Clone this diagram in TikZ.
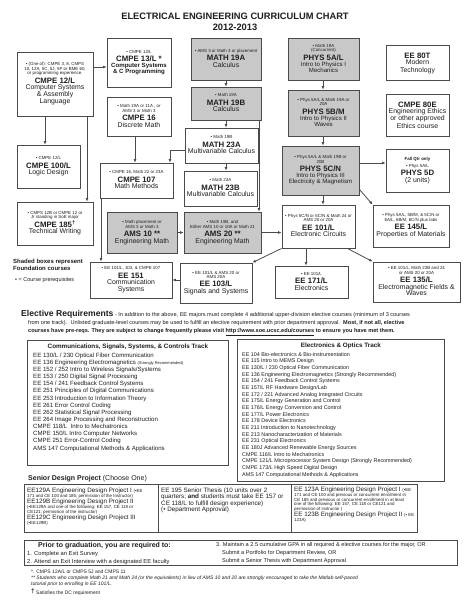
\documentclass[tikz,border=0pt]{standalone}
\usepackage{fontspec}
\setmainfont{Liberation Sans}
\usetikzlibrary{arrows.meta,calc}
\definecolor{bordc}{HTML}{4A4A4A}
\definecolor{shadec}{HTML}{C8C8C8}
\definecolor{txtc}{HTML}{1E1E1E}
\newcommand\xPre[1]{{\fontsize{4.4}{0}\selectfont\rule[-1pt]{0pt}{3.4pt}#1}}
\newcommand\xTitle[1]{{\fontsize{7.8}{0}\selectfont\bfseries\rule[-1.3pt]{0pt}{8.2pt}#1}}
\newcommand\xSub[1]{{\fontsize{6.9}{0}\selectfont\rule[-1.7pt]{0pt}{5.9pt}#1}}
\newcommand\xSubs[1]{{\fontsize{6.1}{0}\selectfont\rule[-1.5pt]{0pt}{5.1pt}#1}}
\newcommand\xBsub[1]{{\fontsize{6.1}{0}\selectfont\bfseries\rule[-1.5pt]{0pt}{5.4pt}#1}}
\newcommand\xBig[1]{{\fontsize{6.3}{0}\selectfont\rule[-1.5pt]{0pt}{5pt}#1}}
\newcommand\xSm[1]{{\fontsize{4.4}{0}\selectfont\rule[-1pt]{0pt}{3.6pt}#1}}
\newcommand\xSmI[1]{{\fontsize{4.4}{0}\selectfont #1}}
\tikzset{
  cbox/.style={draw=bordc, line width=0.9pt, fill=white, align=center, inner sep=1pt, text=txtc,
    font={\fontsize{4.4}{0}\selectfont\lineskip=0.4pt\lineskiplimit=0pt}},
  gbox/.style={cbox, fill=shadec},
  arr/.style={draw=bordc, line width=0.8pt, -{Latex[length=3.5pt,width=3pt]}},
  frame/.style={draw=bordc, line width=0.8pt, inner sep=0, anchor=north west},
  plain/.style={inner sep=0, text=txtc},
  colt/.style={plain, anchor=north west, align=left,
    font={\fontsize{4.4}{0}\selectfont\lineskip=0.5pt\lineskiplimit=0pt}},
}
\begin{document}
\begin{tikzpicture}[x=1pt,y=-1pt]
\useasboundingbox (0,0) rectangle (474,613);
\fill[white] (0,0) rectangle (474,613);

% title
\node[plain, font=\fontsize{9.3}{11}\selectfont\bfseries] (title) at (235,16) {ELECTRICAL ENGINEERING CURRICULUM CHART};
\node[plain, font=\fontsize{9.3}{11}\selectfont\bfseries] (year) at (235,27.5) {2012-2013};

% course boxes
\node[cbox, minimum width=76pt, minimum height=64pt] (cmpe12) at (55,84)
 {\xPre{• (One of): CMPE 3, 8, CMPS}\\\xPre{10, 12A, 5C, 5J, 5P or BME 60,}\\\xPre{or programming experience.}\\\xTitle{CMPE 12/L}\\\xSub{Computer Systems}\\\xSub{\& Assembly}\\\xSub{Language}};
\node[cbox, minimum width=64pt, minimum height=49pt] (cmpe13) at (139,62.5)
 {\xPre{• CMPE 12/L}\\\xTitle{CMPE 13/L *}\\\xBsub{Computer Systems}\\\xBsub{\& C Programming}};
\node[cbox, minimum width=64pt, minimum height=39pt] (cmpe16) at (139,116.5)
 {\xPre{• Math 19A or 11A , or}\\\xPre{AMS 3 or Math 3}\\\xTitle{CMPE 16}\\\xSub{Discrete Math}};
\node[gbox, minimum width=70pt, minimum height=42pt] (math19a) at (226,59)
 {\xPre{• AMS 3 or Math 3 or placement}\\\xTitle{MATH 19A}\\\xSub{Calculus}};
\node[gbox, minimum width=70pt, minimum height=33pt] (math19b) at (226,103.5)
 {\xPre{• Math 19A}\\\xTitle{MATH 19B}\\\xSub{Calculus}};
\node[cbox, minimum width=73pt, minimum height=35pt] (math23a) at (221.5,145.5)
 {\xPre{• Math 19B}\\\xTitle{MATH 23A}\\\xSub{Multivariable Calculus}};
\node[cbox, minimum width=73pt, minimum height=35pt] (math23b) at (220.5,188.5)
 {\xPre{• Math 23A}\\\xTitle{MATH 23B}\\\xSub{Multivariable Calculus}};
\node[cbox, minimum width=73pt, minimum height=35pt] (cmpe107) at (136.5,180.5)
 {\xPre{• CMPE 16, Math 22 or 23A}\\\xTitle{CMPE 107}\\\xSub{Math Methods}};
\node[gbox, minimum width=70pt, minimum height=41pt] (ams10) at (142,232.5)
 {\xPre{• Math placement or}\\\xPre{AMS 3 or Math 3}\\\xTitle{AMS 10 **}\\\xSub{Engineering Math}};
\node[gbox, minimum width=77pt, minimum height=41pt] (ams20) at (222.5,232.5)
 {\xPre{• Math 19B, and}\\\xPre{Either AMS 10 or 10A or Math 21}\\\xTitle{AMS 20 **}\\\xSub{Engineering Math}};
\node[cbox, minimum width=63pt, minimum height=43pt] (cmpe100) at (48.5,166.5)
 {\xPre{• CMPE 12/L}\\\xTitle{CMPE 100/L}\\\xSub{Logic Design}};
\node[cbox, minimum width=76pt, minimum height=43pt] (cmpe185) at (55,223.5)
 {\xPre{• CMPS 12B or CMPE 12 or}\\\xPre{Jr standing in SoE major}\\\xTitle{CMPE 185\textsuperscript{†}}\\\xSub{Technical Writing}};
\node[gbox, minimum width=71pt, minimum height=42pt] (phys5a) at (323.5,59)
 {\xPre{• Math 19A}\\\xPre{(Concurrent)}\\\xTitle{PHYS 5A/L}\\\xSubs{Intro to Physics I}\\\xSubs{Mechanics}};
\node[gbox, minimum width=71pt, minimum height=46pt] (phys5b) at (323.5,113)
 {\xPre{• Phys 5A/L \& Math 19A or}\\\xPre{20A}\\\xTitle{PHYS 5B/M}\\\xSubs{Intro to Physics II}\\\xSubs{Waves}};
\node[gbox, minimum width=77pt, minimum height=49pt] (phys5c) at (320.5,170.5)
 {\xPre{• Phys 5A/L \& Math 19B or}\\\xPre{20B}\\\xTitle{PHYS 5C/N}\\\xSubs{Intro to Physics III}\\\xSubs{Electricity \& Magnetism}};
\node[cbox, minimum width=63pt, minimum height=43pt] (phys5d) at (417.5,170.5)
 {\xPre{\bfseries Fall Qtr only}\\[2pt]\xPre{• Phys 5A/L}\\\xTitle{PHYS 5D}\\\xSub{(2 units)}};
\node[cbox, minimum width=73pt, minimum height=43pt] (ee101) at (318.5,226.5)
 {\xPre{• Phys 5C/N or 6C/N \& Math 24 or}\\\xPre{AMS 20 or 20A}\\\xTitle{EE 101/L}\\\xSub{Electronic Circuits}};
\node[cbox, minimum width=76pt, minimum height=42pt] (ee145) at (411,226)
 {\xPre{• Phys 5A/L, 5B/M, \& 5C/N or}\\\xPre{6A/L, 6B/M, 6C/N plus labs}\\\xTitle{EE 145/L}\\\xSub{Properties of Materials}};
\node[cbox, minimum width=63pt, minimum height=35pt] (ee80t) at (417.5,62.5)
 {\xTitle{EE 80T}\\\xSub{Modern}\\\xSub{Technology}};
\node[cbox, minimum width=63pt, minimum height=42pt] (cmpe80e) at (417.5,115)
 {\xTitle{CMPE 80E}\\\xSub{Engineering Ethics}\\\xSub{or other approved}\\\xSub{Ethics course}};
\node[cbox, minimum width=82pt, minimum height=36pt] (ee151) at (131,280)
 {\xPre{• EE 101/L, 103, \& CMPE 107}\\\xTitle{EE 151}\\\xSub{Communication}\\\xSub{Systems}};
\node[cbox, minimum width=72pt, minimum height=40pt] (ee103) at (216,283)
 {\xPre{• EE 101/L \& AMS 20 or}\\\xPre{AMS 20A}\\\xTitle{EE 103/L}\\\xSub{Signals and Systems}};
\node[cbox, minimum width=73pt, minimum height=32pt] (ee171) at (311.5,282)
 {\xPre{• EE 101/L}\\\xTitle{EE 171/L}\\\xSub{Electronics}};
\node[cbox, minimum width=87pt, minimum height=40pt] (ee135) at (416.5,282)
 {\xPre{• EE 101/L, Math 23B and 24}\\\xPre{or AMS 20 or 20A}\\\xTitle{EE 135/L}\\\xSub{Electromagnetic Fields \&}\\\xSub{Waves}};

% connectors
\draw[arr] (cmpe12.east |- 0,67) -- (cmpe13.west |- 0,67);
\draw[arr] (45,0 |- cmpe12.south) -- (45,0 |- cmpe100.north);
\draw[arr] (87,0 |- cmpe12.south) -- (87,0 |- cmpe185.north);
\draw[arr] (135,0 |- cmpe16.south) -- (135,0 |- cmpe107.north);
\draw[arr] (226,0 |- math19a.south) -- (226,0 |- math19b.north);
\draw[arr] (226,0 |- math19b.south) -- (226,0 |- math23a.north);
\draw[arr] (226,0 |- math23a.south) -- (226,0 |- math23b.north);
\draw[arr] (math23a.west |- 0,150) -| (170,0 |- cmpe107.north);
\draw[arr] (259,0 |- math19b.south) -- (259,0 |- ams20.north);
\draw[arr] (ams10.east) -- (ams20.west);
\draw[arr] (ams20.east) -- (ams20.east -| ee101.west);
\draw[arr] (ee101.south west) -- (ee103.north east);
\draw[arr] (101,0 |- cmpe107.south) -- (101,0 |- ee151.north);
\draw[arr] (ee103.west |- 0,280) -- (ee151.east |- 0,280);
\draw[arr] (323,0 |- phys5a.south) -- (323,0 |- phys5b.north);
\draw[arr] (323,0 |- phys5b.south) -- (323,0 |- phys5c.north);
\draw[arr] (323,0 |- phys5c.south) -- (323,0 |- ee101.north);
\draw[arr] (phys5c.east |- 0,163) -- (phys5d.west |- 0,163);
\draw[arr] ([yshift=6pt]phys5c.south east) -- (ee145.north west);
\draw[arr] (306,0 |- ee101.south) -- (306,0 |- ee171.north);
\draw[arr] ([xshift=-8pt]ee101.south east) -- (ee135.north west);

% legend
\node[plain, anchor=west, align=left, font=\fontsize{6}{7}\selectfont\bfseries] (legend) at (13,264.5) {Shaded boxes represent\\Foundation courses};
\node[plain, anchor=west, font=\fontsize{5.5}{6}\selectfont] (legend2) at (15,280) {•\ = Course prerequisites};

% elective requirements
\node[plain, anchor=base west] (elec1) at (21,316.5) {{\fontsize{8.6}{10}\selectfont\bfseries Elective Requirements}\fontsize{5.6}{6}\selectfont\ - In addition to the above, EE majors must complete 4 additional upper-division elective courses (minimum of 3 courses};
\node[plain, anchor=base west, font=\fontsize{5.6}{6}\selectfont] (elec2) at (28,324.5) {from one track).\ \ Unlisted graduate-level courses may be used to fulfill an elective requirement with prior department approval.\ \ \textbf{Most, if not all, elective}};
\node[plain, anchor=base west, font=\fontsize{5.6}{6}\selectfont\bfseries] (elec3) at (28,332.5) {courses have pre-reqs. They are subject to change frequently please visit \underline{http://www.soe.ucsc.edu/courses} to ensure you have met them.};

% tracks
\node[frame, minimum width=201pt, minimum height=125pt] (trackA) at (27,340) {};
\node[plain, font=\fontsize{6.3}{7}\selectfont\bfseries] (trackAt) at ([yshift=-7pt]trackA.north) {Communications, Signals, Systems, \& Controls Track};
\node[plain, anchor=north west, align=left, font=\fontsize{6.1}{7.15}\selectfont] (trackAl) at (33,352.5) {EE 130/L / 230 Optical Fiber Communication\\
EE 136 Engineering Electromagnetics {\fontsize{4}{5}\selectfont (Strongly Recommended)}\\
EE 152 / 252 Intro to Wireless Signals/Systems\\
EE 153 / 250 Digital Signal Processing\\
EE 154 / 241 Feedback Control Systems\\
EE 251 Principles of Digital Communications\\
EE 253 Introduction to Information Theory\\
EE 261 Error Control Coding\\
EE 262 Statistical Signal Processing\\
EE 264 Image Processing and Reconstruction\\
CMPE 118/L\ \ Intro to Mechatronics\\
CMPE 150/L Intro Computer Networks\\
CMPE 251 Error-Control Coding\\
AMS 147 Computational Methods \& Applications};

\node[frame, minimum width=207pt, minimum height=142pt] (trackB) at (237,339) {};
\node[plain, font=\fontsize{6.3}{7}\selectfont\bfseries] (trackBt) at ([yshift=-7pt]trackB.north) {Electronics \& Optics Track};
\node[plain, anchor=north west, align=left, font=\fontsize{5.4}{6.67}\selectfont] (trackBl) at (242,352) {EE 104 Bio-electronics \& Bio-instrumentation\\
EE 115 Intro to MEMS Design\\
EE 130/L / 230 Optical Fiber Communication\\
EE 136 Engineering Electromagnetics (Strongly Recommended)\\
EE 154 / 241 Feedback Control Systems\\
EE 157/L RF Hardware Design/Lab\\
EE 172 / 221 Advanced Analog Integrated Circuits\\
EE 175/L Energy Generation and Control\\
EE 176/L Energy Conversion and Control\\
EE 177/L Power Electronics\\
EE 178 Device Electronics\\
EE 211 Introduction to Nanotechnology\\
EE 213 Nanocharacterization of Materials\\
EE 231 Optical Electronics\\
EE 180J Advanced Renewable Energy Sources\\
CMPE 116/L Intro to Mechatronics\\
CMPE 121/L Microprocessor System Design (Strongly Recommended)\\
CMPE 173/L High Speed Digital Design\\
AMS 147 Computational Methods \& Applications};

% senior design
\node[plain, anchor=west, font=\fontsize{7}{8}\selectfont] (sdtitle) at (28,479) {\textbf{Senior Design Project} (Choose One)};
\node[frame, minimum width=393pt, minimum height=48pt] (sdtable) at (24,484) {};
\draw[bordc, line width=0.8pt] (158,0 |- sdtable.north) -- (158,0 |- sdtable.south);
\draw[bordc, line width=0.8pt] (291,0 |- sdtable.north) -- (291,0 |- sdtable.south);
\node[colt] (sdA) at (27,487.5) {\xBig{EE129A Engineering Design Project I \xSmI{(•EE}}\\
\xSm{171 and CE 100 and 185; permission of the Instructor)}\\
\xBig{EE129B Engineering Design Project II}\\
\xSm{(•EE129A and one of the following: EE 157, CE 118 or}\\
\xSm{CE121; permission of the instructor)}\\
\xBig{EE129C Engineering Design Project III}\\
\xSm{(•EE129B)}};
\node[colt] (sdB) at (161,487.5) {\xBig{EE 195 Senior Thesis (10 units over 2}\\
\xBig{quarters; \textbf{and} students must take EE 157 or}\\
\xBig{CE 118/L to fulfill design experience)}\\
\xBig{(• Department Approval)}};
\node[colt] (sdC) at (294,486.5) {\xBig{EE 123A Engineering Design Project I \xSmI{(•EE}}\\
\xSm{171 and CE 100 and previous or concurrent enrollment in}\\
\xSm{CE 185 and previous or concurrent enrollment in at least}\\
\xSm{one of the following: EE 157, CE 118 or CE121 and}\\
\xSm{permission of instructor )}\\
\xBig{EE 123B Engineering Design Project II \xSmI{(• EE}}\\
\xSm{123A)}};

% prior to graduation
\node[frame, minimum width=433pt, minimum height=25pt] (prior) at (24,540) {};
\node[plain, anchor=west, font=\fontsize{7}{8}\selectfont\bfseries] (priorT) at (38,546) {Prior to graduation, you are required to:};
\node[plain, anchor=west, align=left, font=\fontsize{5.8}{8}\selectfont] (priorL) at (27,558) {1. Complete an Exit Survey\\2. Attend an Exit Interview with a designated EE faculty};
\node[plain, anchor=west, align=left, font=\fontsize{5.6}{8}\selectfont] (priorR) at (216,553) {3. Maintain a 2.5 cumulative GPA in all required \& elective courses for the major, OR\\\hspace*{6pt}Submit a Portfolio for Department Review, OR\\\hspace*{6pt}Submit a Senior Thesis with Department Approval};

% footnotes
\node[plain, anchor=west, font=\fontsize{5}{6}\selectfont] (fn1) at (31,572) {*. CMPS 12A/L or CMPS 5J and CMPS 11};
\node[plain, anchor=west, align=left, font=\fontsize{5}{5.8}\selectfont\itshape] (fn2) at (31,581.5) {** Students who complete Math 21 and Math 24 (or the equivalents) in lieu of AMS 10 and 20 are strongly encouraged to take the Matlab self-paced\\tutorial prior to enrolling in EE 101/L.};
\node[plain, anchor=west, font=\fontsize{5}{6}\selectfont] (fn3) at (31,592) {{\fontsize{6.5}{6}\selectfont\bfseries\raisebox{1.5pt}{†}}\ Satisfies the DC requirement};
\end{tikzpicture}
\end{document}
